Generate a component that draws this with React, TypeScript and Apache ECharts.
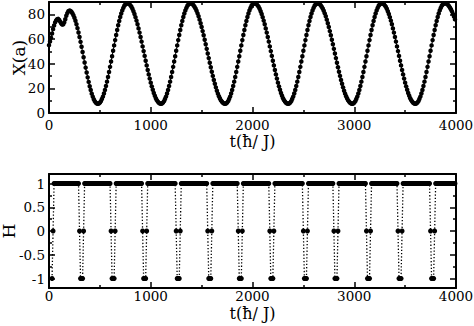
import React, { useEffect, useRef } from "react";
import * as echarts from "echarts";

// ---------- data ----------
const T_STEP = 10; // sampling step of both series in t(ħ/J)

// X(a) from t = 0 to 480
const xSeg0 = [
  55, 58, 61, 64.5, 68, 71, 73.5, 75, 76, 76.3, 75.5, 74, 72.5, 71.8, 72, 73.5, 76, 78.8, 81, 82.5,
  83.0, 82.8, 82.1, 80.9, 79.3, 77.2, 74.8, 71.9, 68.8, 65.3, 61.6, 57.7, 53.7, 49.5, 45.2, 41.0,
  36.8, 32.8, 28.9, 25.2, 21.7, 18.6, 15.7, 13.3, 11.2, 9.6, 8.4, 7.7, 7.5,
];
// t = 490 .. 1100
const xCycle1 = [
  7.7, 8.4, 9.6, 11.3, 13.3, 15.8, 18.7, 21.9, 25.4, 29.2, 33.2, 37.4, 41.7, 46.0, 50.5, 54.8, 59.1,
  63.3, 67.3, 71.1, 74.6, 77.8, 80.7, 83.2, 85.2, 86.9, 88.0, 88.8, 89.0,
  88.8, 88.3, 87.3, 86.1, 84.5, 82.5, 80.3, 77.7, 74.9, 71.9, 68.6, 65.2, 61.6, 57.9, 54.0, 50.2,
  46.3, 42.4, 38.6, 34.9, 31.3, 27.9, 24.6, 21.6, 18.8, 16.2, 14.0, 12.0, 10.4, 9.2, 8.2, 7.7, 7.5,
];
// t = 1110 .. 1730
const xCycle2 = [
  7.7, 8.4, 9.6, 11.3, 13.3, 15.8, 18.7, 21.9, 25.4, 29.2, 33.2, 37.4, 41.7, 46.0, 50.5, 54.8, 59.1,
  63.3, 67.3, 71.1, 74.6, 77.8, 80.7, 83.2, 85.2, 86.9, 88.0, 88.8, 89.0,
  88.8, 88.3, 87.4, 86.2, 84.7, 82.9, 80.8, 78.4, 75.7, 72.8, 69.7, 66.4, 63.0, 59.4, 55.7, 52.0,
  48.2, 44.5, 40.8, 37.1, 33.5, 30.1, 26.8, 23.7, 20.8, 18.1, 15.7, 13.6, 11.8, 10.2, 9.1, 8.2, 7.7, 7.5,
];
// t = 1740 .. 2350
const xCycle3 = [
  7.7, 8.4, 9.6, 11.3, 13.3, 15.8, 18.7, 21.9, 25.4, 29.2, 33.2, 37.4, 41.7, 46.0, 50.5, 54.8, 59.1,
  63.3, 67.3, 71.1, 74.6, 77.8, 80.7, 83.2, 85.2, 86.9, 88.0, 88.8, 89.0,
  88.8, 88.3, 87.3, 86.1, 84.5, 82.5, 80.3, 77.7, 74.9, 71.9, 68.6, 65.2, 61.6, 57.9, 54.0, 50.2,
  46.3, 42.4, 38.6, 34.9, 31.3, 27.9, 24.6, 21.6, 18.8, 16.2, 14.0, 12.0, 10.4, 9.2, 8.2, 7.7, 7.5,
];
// t = 2360 .. 2980
const xCycle4 = [
  7.7, 8.4, 9.6, 11.3, 13.3, 15.8, 18.7, 21.9, 25.4, 29.2, 33.2, 37.4, 41.7, 46.0, 50.5, 54.8, 59.1,
  63.3, 67.3, 71.1, 74.6, 77.8, 80.7, 83.2, 85.2, 86.9, 88.0, 88.8, 89.0,
  88.8, 88.3, 87.4, 86.2, 84.7, 82.9, 80.8, 78.4, 75.7, 72.8, 69.7, 66.4, 63.0, 59.4, 55.7, 52.0,
  48.2, 44.5, 40.8, 37.1, 33.5, 30.1, 26.8, 23.7, 20.8, 18.1, 15.7, 13.6, 11.8, 10.2, 9.1, 8.2, 7.7, 7.5,
];
// t = 2990 .. 3600
const xCycle5 = [
  7.7, 8.4, 9.6, 11.3, 13.3, 15.8, 18.7, 21.9, 25.4, 29.2, 33.2, 37.4, 41.7, 46.0, 50.5, 54.8, 59.1,
  63.3, 67.3, 71.1, 74.6, 77.8, 80.7, 83.2, 85.2, 86.9, 88.0, 88.8, 89.0,
  88.8, 88.3, 87.3, 86.1, 84.5, 82.5, 80.3, 77.7, 74.9, 71.9, 68.6, 65.2, 61.6, 57.9, 54.0, 50.2,
  46.3, 42.4, 38.6, 34.9, 31.3, 27.9, 24.6, 21.6, 18.8, 16.2, 14.0, 12.0, 10.4, 9.2, 8.2, 7.7, 7.5,
];
// t = 3610 .. 3990
const xCycle6 = [
  7.7, 8.4, 9.6, 11.3, 13.3, 15.8, 18.7, 21.9, 25.4, 29.2, 33.2, 37.4, 41.7, 46.0, 50.5, 54.8, 59.1,
  63.3, 67.3, 71.1, 74.6, 77.8, 80.7, 83.2, 85.2, 86.9, 88.0, 88.8, 89.0,
  88.9, 88.5, 87.8, 86.8, 85.6, 84.1, 82.4, 80.4, 78.2, 75.9,
];
const xValues = [...xSeg0, ...xCycle1, ...xCycle2, ...xCycle3, ...xCycle4, ...xCycle5, ...xCycle6];

// H: level 1 except short dips (1 -> 0 -> -1 -> 0 -> 1)
const hStart = 30;
const hEnd = 3990;
const hPlateau = 1;
const hLeadIn = [-1, 0]; // t = 30, 40
const hDipCenters = [320, 630, 940, 1270, 1580, 1880, 2190, 2520, 2820, 3140, 3450, 3770];
const hDipProfile = [0, -1, -1, -1, 0]; // at centre -20 .. +20

// axis ticks
const tMajor = [0, 1000, 2000, 3000, 4000];
const tMinor = [500, 1500, 2500, 3500];
const xaMajor = [0, 20, 40, 60, 80];
const xaMinor = [10, 30, 50, 70];
const hMajor = [-1, -0.5, 0, 0.5, 1];
const hMinor = [-0.75, -0.25, 0.25, 0.75];

// ---------- build ----------
const xData = xValues.map((v, i) => [i * T_STEP, v]);
const hData: number[][] = [];
for (let t = hStart; t <= hEnd; t += T_STEP) {
  let v = hPlateau;
  const li = Math.round((t - hStart) / T_STEP);
  if (li < hLeadIn.length) v = hLeadIn[li];
  for (const c of hDipCenters) {
    const k = Math.round((t - c) / T_STEP) + 2;
    if (k >= 0 && k < hDipProfile.length) v = hDipProfile[k];
  }
  hData.push([t, v]);
}

const FONT = "DejaVu Serif";
const BLACK = "#000";

function axisSet(dim: "x" | "y", gridIndex: number, min: number, max: number,
  major: number[], minor: number[], o: any) {
  const base: any = { type: "value", gridIndex, min, max, splitLine: { show: false } };
  const pPos = dim === "x" ? "bottom" : "left";
  const mPos = dim === "x" ? "top" : "right";
  const tickLine = { color: BLACK, width: 1.5 };
  const axisLine = { show: true, onZero: false, lineStyle: { color: BLACK, width: 2 } };
  return [
    {
      ...base, position: pPos,
      name: o.name, nameLocation: "middle", nameGap: o.nameGap, nameRotate: dim === "y" ? 90 : 0,
      nameMoveOverlap: false,
      nameTextStyle: { color: BLACK, fontFamily: FONT, fontSize: o.nameSize, lineHeight: o.nameSize },
      axisLine,
      axisTick: { show: true, inside: true, length: 6, customValues: major, lineStyle: tickLine },
      axisLabel: {
        show: true, customValues: major, margin: o.labelMargin, color: BLACK,
        fontFamily: FONT, fontSize: 13.5, lineHeight: 11,
        formatter: (v: number) => String(v),
      },
    },
    {
      ...base, position: pPos,
      axisLine: { show: false, onZero: false },
      axisTick: { show: true, inside: true, length: 3, customValues: minor, lineStyle: tickLine },
      axisLabel: { show: false },
    },
    {
      ...base, position: mPos,
      axisLine,
      axisTick: { show: true, inside: true, length: 6, customValues: major, lineStyle: tickLine },
      axisLabel: { show: false },
    },
    {
      ...base, position: mPos,
      axisLine: { show: false, onZero: false },
      axisTick: { show: true, inside: true, length: 3, customValues: minor, lineStyle: tickLine },
      axisLabel: { show: false },
    },
  ];
}

export default function App() {
  const ref = useRef<HTMLDivElement>(null);
  useEffect(() => {
    document.body.style.margin = "0";
    if (!ref.current) return;
    const chart = echarts.init(ref.current, null, { renderer: "svg" });
    const tName = "t(\u0127/ J)";
    chart.setOption({
      animation: false,
      backgroundColor: "#fff",
      grid: [
        { left: 49, top: 2, width: 407, height: 111, outerBoundsMode: "none" },
        { left: 49, top: 174, width: 407, height: 114, outerBoundsMode: "none" },
      ],
      xAxis: [
        ...axisSet("x", 0, 0, 4000, tMajor, tMinor, { name: tName, nameGap: 20.5, nameSize: 16, labelMargin: 6 }),
        ...axisSet("x", 1, 0, 4000, tMajor, tMinor, { name: tName, nameGap: 17, nameSize: 16, labelMargin: 2 }),
      ],
      yAxis: [
        ...axisSet("y", 0, 0, 90, xaMajor, xaMinor, { name: "X(a)", nameGap: 22, nameSize: 17, labelMargin: 4 }),
        ...axisSet("y", 1, -1.2, 1.2, hMajor, hMinor, { name: "H", nameGap: 32, nameSize: 17, labelMargin: 4 }),
      ],
      series: [
        {
          type: "line", xAxisIndex: 0, yAxisIndex: 0, data: xData,
          symbol: "circle", symbolSize: 4.5, showSymbol: true,
          itemStyle: { color: BLACK }, lineStyle: { color: BLACK, width: 1 },
        },
        {
          type: "line", xAxisIndex: 4, yAxisIndex: 4, data: hData,
          symbol: "circle", symbolSize: 5, showSymbol: true,
          itemStyle: { color: BLACK }, lineStyle: { color: BLACK, width: 1.3, type: [1.3, 2] },
        },
      ],
    });
    return () => chart.dispose();
  }, []);
  return <div ref={ref} style={{ width: 474, height: 326 }} />;
}
